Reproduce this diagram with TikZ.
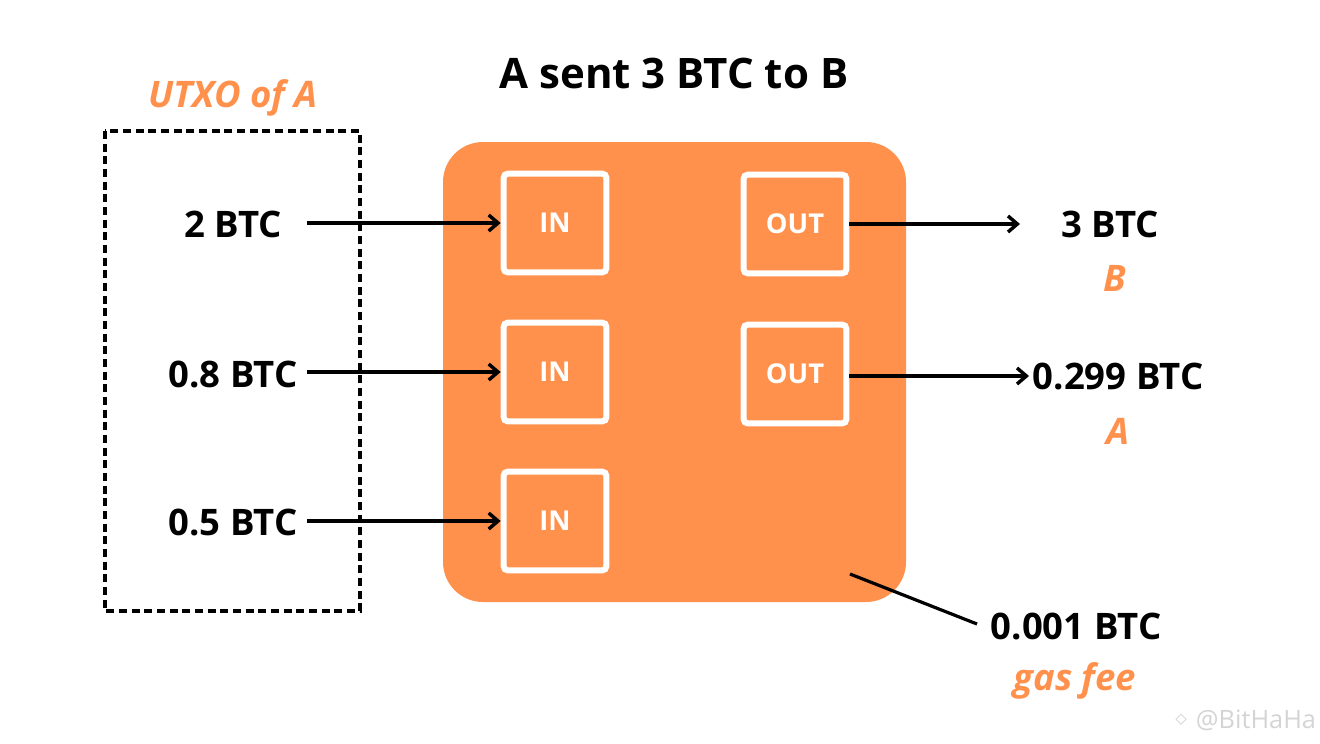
\documentclass[tikz,border=0pt]{standalone}
\usepackage{fontspec}
\setmainfont{Open Sans}
\usetikzlibrary{arrows.meta}
\definecolor{orng}{HTML}{FF914D}
\definecolor{wm}{HTML}{D4D4D4}
\tikzset{
  lbl/.style={font=\fontsize{27.4}{30}\selectfont\bfseries, text=black, inner sep=0pt},
  olbl/.style={font=\fontsize{27.4}{30}\selectfont\bfseries\itshape, text=orng, inner sep=0pt},
  iobox/.style={draw=white, line width=4.5pt, rounded corners=3pt, minimum width=77pt, minimum height=74pt, inner sep=0pt, text=white, font=\fontsize{20.5}{23}\selectfont\bfseries},
  arr/.style={line width=2.6pt, -{Straight Barb[length=7pt,width=12pt,line width=2.6pt]}},
  plain/.style={line width=2.4pt},
}
\begin{document}
\begin{tikzpicture}[x=0.75pt,y=-0.75pt]
\useasboundingbox (0,0) rectangle (1320,743);
% title
\node[font=\fontsize{31.5}{35}\selectfont\bfseries, inner sep=0pt] (title) at (674,73) {A sent 3 BTC to B};
% UTXO box
\draw[line width=2.4pt, dash pattern=on 6pt off 3.5pt] (105,131) rectangle (360,611);
\node[olbl] (utxo) at (233,98) {UTXO of A};
% transaction
\fill[orng, rounded corners=30] (443,142) rectangle (906,602);
\node[iobox] (in1) at (555,223) {\raisebox{-2pt}{IN}};
\node[iobox] (in2) at (555,372) {\raisebox{-2pt}{IN}};
\node[iobox] (in3) at (555,521) {\raisebox{-2pt}{IN}};
\node[iobox] (out1) at (795,224) {\raisebox{-2pt}{OUT}};
\node[iobox] (out2) at (795,374) {\raisebox{-2pt}{OUT}};
% inputs
\node[lbl] (v1) at (233,224) {2 BTC};
\node[lbl] (v2) at (233,374) {0.8 BTC};
\node[lbl] (v3) at (233,522) {0.5 BTC};
\coordinate (s1) at (307,223);
\coordinate (s2) at (307,372);
\coordinate (s3) at (307,521);
\draw[arr] (s1) -- (in1.west);
\draw[arr] (s2) -- (in2.west);
\draw[arr] (s3) -- (in3.west);
% outputs
\node[lbl] (o1) at (1110,224) {3 BTC};
\node[olbl] (ob) at (1115,278) {B};
\node[lbl] (o2) at (1118,376) {0.299 BTC};
\node[olbl] (oa) at (1118,431) {A};
\coordinate (e1) at (1020,224);
\coordinate (e2) at (1029,376);
\draw[arr] (out1.east) -- (e1);
\draw[arr] (out2.east |- e2) -- (e2);
% fee
\coordinate (f1) at (850,574);
\coordinate (f2) at (977,624);
\draw[plain] (f1) -- (f2);
\node[lbl] (fee) at (1076,626) {0.001 BTC};
\node[olbl] (gas) at (1075,681) {gas fee};
% watermark
\node[font=\fontsize{19}{21}\selectfont, text=wm, inner sep=0pt] (wmk) at (1256,720) {@BitHaHa};
\node[font=\fontsize{19}{21}\selectfont, text=wm, inner sep=0pt] (wmi) at (1181,720) {$\diamond$};
\end{tikzpicture}
\end{document}
